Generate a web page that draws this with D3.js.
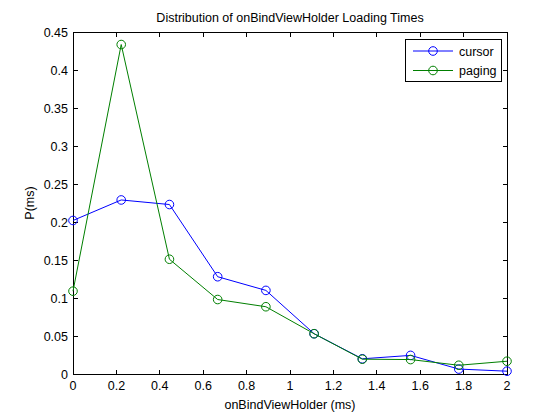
<!DOCTYPE html>
<html>
<head>
<meta charset="utf-8">
<script src="https://d3js.org/d3.v7.min.js"></script>
<style>
  body { margin: 0; background: #fff; }
  svg { font-family: "Liberation Sans", Arial, sans-serif; }
  .lbl { font-size: 12.5px; fill: #000; }
</style>
</head>
<body>
<svg width="560" height="420" id="chart"></svg>
<script>
  // x positions of the bins (ms)
  var binsMs = [0, 0.2222, 0.4444, 0.6667, 0.8889, 1.1111, 1.3333, 1.5556, 1.7778, 2]
  var cursorP = [0.202, 0.229, 0.223, 0.128, 0.110, 0.053, 0.020, 0.0245, 0.0065, 0.0037]
  var pagingP = [0.109, 0.4335, 0.151, 0.098, 0.0885, 0.053, 0.0195, 0.019, 0.0115, 0.0168]
  var xTicks = [0, 0.2, 0.4, 0.6, 0.8, 1, 1.2, 1.4, 1.6, 1.8, 2]
  var yTicks = [0, 0.05, 0.1, 0.15, 0.2, 0.25, 0.3, 0.35, 0.4, 0.45]
  var seriesNames = ['cursor', 'paging']
  var seriesColors = ['#0000ff', '#007f00']

  var svg = d3.select('#chart')
  // plot box in pixels (note: "top" is reserved on window, so use ax*)
  var axLeft = 73, axRight = 507, axTop = 32, axBottom = 374

  var x = d3.scaleLinear().domain([0, 2]).range([axLeft, axRight])
  var y = d3.scaleLinear().domain([0, 0.45]).range([axBottom, axTop])

  var tickLen = 4.5

  // frame
  svg.append('rect')
    .attr('x', axLeft).attr('y', axTop)
    .attr('width', axRight - axLeft).attr('height', axBottom - axTop)
    .attr('fill', 'none').attr('stroke', '#000').attr('stroke-width', 1)
    .attr('shape-rendering', 'crispEdges')

  // ticks inside, on all four sides
  var tickG = svg.append('g').attr('stroke', '#000').attr('shape-rendering', 'crispEdges')
  xTicks.forEach(function(t) {
    tickG.append('line').attr('x1', x(t)).attr('x2', x(t)).attr('y1', axBottom).attr('y2', axBottom - tickLen)
    tickG.append('line').attr('x1', x(t)).attr('x2', x(t)).attr('y1', axTop).attr('y2', axTop + tickLen)
  })
  yTicks.forEach(function(t) {
    tickG.append('line').attr('x1', axLeft).attr('x2', axLeft + tickLen).attr('y1', y(t)).attr('y2', y(t))
    tickG.append('line').attr('x1', axRight).attr('x2', axRight - tickLen).attr('y1', y(t)).attr('y2', y(t))
  })

  // tick labels
  svg.append('g').selectAll('text').data(xTicks).enter().append('text')
    .attr('class', 'lbl')
    .attr('x', function(d) { return x(d) })
    .attr('y', axBottom + 16)
    .attr('text-anchor', 'middle')
    .text(function(d) { return d3.format('~g')(d) })

  svg.append('g').selectAll('text').data(yTicks).enter().append('text')
    .attr('class', 'lbl')
    .attr('x', axLeft - 5)
    .attr('y', function(d) { return y(d) + 4.5 })
    .attr('text-anchor', 'end')
    .text(function(d) { return d3.format('~g')(d) })

  // title and axis labels
  svg.append('text').attr('class', 'lbl')
    .attr('x', (axLeft + axRight) / 2).attr('y', 22)
    .attr('text-anchor', 'middle')
    .text('Distribution of onBindViewHolder Loading Times')

  svg.append('text').attr('class', 'lbl')
    .attr('x', (axLeft + axRight) / 2).attr('y', 409)
    .attr('text-anchor', 'middle')
    .text('onBindViewHolder (ms)')

  svg.append('text').attr('class', 'lbl')
    .attr('transform', 'translate(34,' + ((axTop + axBottom) / 2) + ') rotate(-90)')
    .attr('text-anchor', 'middle')
    .text('P(ms)')

  // series
  var line = d3.line()
    .x(function(d) { return x(d[0]) })
    .y(function(d) { return y(d[1]) })

  ;[cursorP, pagingP].forEach(function(vals, i) {
    var pts = binsMs.map(function(b, j) { return [b, vals[j]] })
    var g = svg.append('g')
    g.append('path')
      .attr('d', line(pts))
      .attr('fill', 'none')
      .attr('stroke', seriesColors[i])
      .attr('stroke-width', 1)
    g.selectAll('circle').data(pts).enter().append('circle')
      .attr('cx', function(d) { return x(d[0]) })
      .attr('cy', function(d) { return y(d[1]) })
      .attr('r', 4.3)
      .attr('fill', 'none')
      .attr('stroke', seriesColors[i])
      .attr('stroke-width', 1)
  })

  // legend
  var lg = svg.append('g')
  lg.append('rect')
    .attr('x', 405.5).attr('y', 39.5).attr('width', 96).attr('height', 42)
    .attr('fill', '#fff').attr('stroke', '#000').attr('shape-rendering', 'crispEdges')
  seriesNames.forEach(function(name, i) {
    var ly = 51 + i * 19.5
    lg.append('line').attr('x1', 413).attr('x2', 453).attr('y1', ly).attr('y2', ly)
      .attr('stroke', seriesColors[i])
    lg.append('circle').attr('cx', 433).attr('cy', ly).attr('r', 4.3)
      .attr('fill', 'none').attr('stroke', seriesColors[i])
    lg.append('text').attr('class', 'lbl')
      .attr('x', 459).attr('y', ly + 4.5)
      .text(name)
  })
</script>
</body>
</html>
